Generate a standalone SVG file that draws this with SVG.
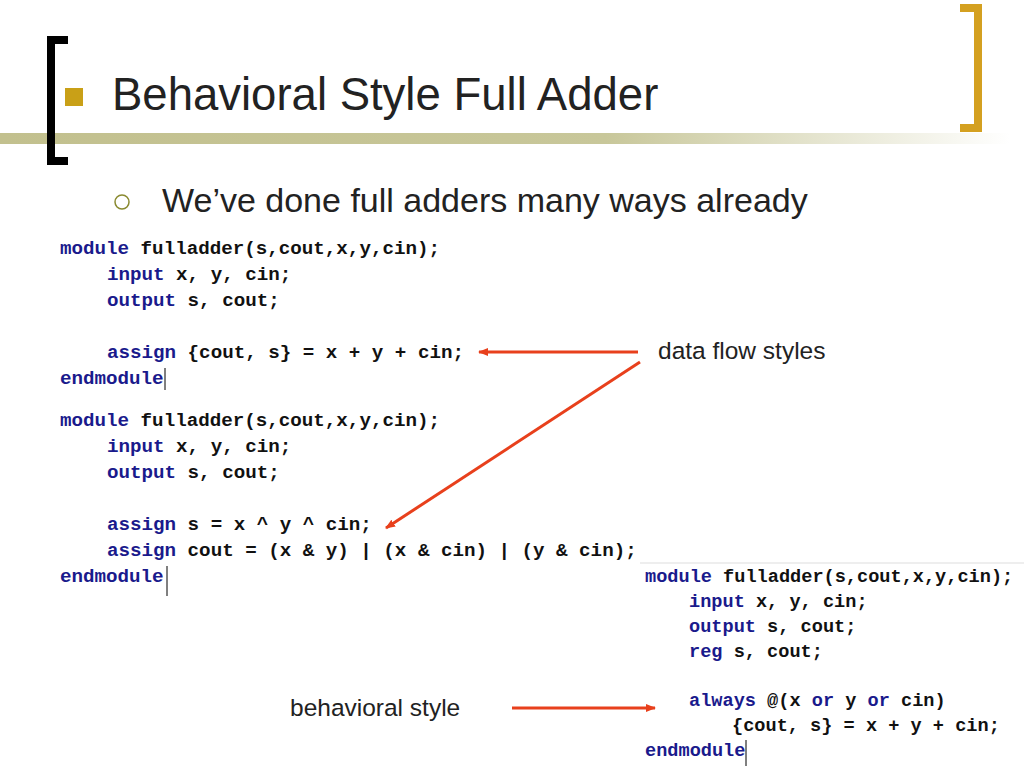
<svg xmlns="http://www.w3.org/2000/svg" width="1024" height="768" viewBox="0 0 1024 768">
<style>
.c{font-family:"Liberation Mono",monospace;font-weight:bold;font-size:19.2px;fill:#111}
.c3{font-size:18.6px}
.k{fill:#1a1a8c}
.s{font-family:"Liberation Sans",Arial,sans-serif;fill:#222}
.a{stroke:#e8401c;stroke-width:3;fill:none;marker-end:url(#ah)}
</style>
<defs>
<marker id="ah" markerWidth="10" markerHeight="8" refX="9" refY="4" orient="auto" markerUnits="userSpaceOnUse"><path d="M0,0L10,4L0,8z" fill="#e8401c"/></marker>
<linearGradient id="bar" x1="0" x2="1"><stop offset="0" stop-color="#c2c08e"/><stop offset="0.6" stop-color="#c8c79a"/><stop offset="1" stop-color="#fff"/></linearGradient>
</defs>
<rect width="1024" height="768" fill="#fff"/>
<rect x="0" y="133" width="1010" height="11" fill="url(#bar)"/>
<path d="M68,40H51V161H68" stroke="#000" stroke-width="8" fill="none"/>
<path d="M960,8H978V128H960" stroke="#d4a020" stroke-width="8" fill="none"/>
<rect x="65" y="88" width="18" height="18" fill="#c9a017"/>
<text x="112" y="110" class="s" font-size="45.5">Behavioral Style Full Adder</text>
<circle cx="122" cy="202" r="7" fill="none" stroke="#8a8a30" stroke-width="1.5"/>
<text x="162" y="212" class="s" font-size="34">We’ve done full adders many ways already</text>
<g id="code1" class="c">
<text x="60" y="254"><tspan class="k">module</tspan> fulladder(s,cout,x,y,cin);</text>
<text x="107" y="280"><tspan class="k">input</tspan> x, y, cin;</text>
<text x="107" y="306"><tspan class="k">output</tspan> s, cout;</text>
<text x="107" y="358"><tspan class="k">assign</tspan> {cout, s} = x + y + cin;</text>
<text x="60" y="384" class="k">endmodule</text>
<line x1="165" y1="368" x2="165" y2="390" stroke="#000"/>
</g>
<g id="code2" class="c">
<text x="60" y="426"><tspan class="k">module</tspan> fulladder(s,cout,x,y,cin);</text>
<text x="107" y="452"><tspan class="k">input</tspan> x, y, cin;</text>
<text x="107" y="478"><tspan class="k">output</tspan> s, cout;</text>
<text x="107" y="530"><tspan class="k">assign</tspan> s = x ^ y ^ cin;</text>
<text x="107" y="556"><tspan class="k">assign</tspan> cout = (x &amp; y) | (x &amp; cin) | (y &amp; cin);</text>
<text x="60" y="582" class="k">endmodule</text>
<line x1="167" y1="566" x2="167" y2="596" stroke="#000"/>
</g>
<g id="code3" class="c c3">
<line x1="640" y1="563" x2="1024" y2="563" stroke="#ddd"/>
<text x="645" y="582"><tspan class="k">module</tspan> fulladder(s,cout,x,y,cin);</text>
<text x="689" y="607"><tspan class="k">input</tspan> x, y, cin;</text>
<text x="689" y="632"><tspan class="k">output</tspan> s, cout;</text>
<text x="689" y="657"><tspan class="k">reg</tspan> s, cout;</text>
<text x="689" y="706"><tspan class="k">always</tspan> @(x <tspan class="k">or</tspan> y <tspan class="k">or</tspan> cin)</text>
<text x="732" y="731">{cout, s} = x + y + cin;</text>
<text x="645" y="756" class="k">endmodule</text>
<line x1="746" y1="740" x2="746" y2="766" stroke="#000"/>
</g>
<text x="658" y="359" class="s" font-size="24.5">data flow styles</text>
<text x="290" y="716" class="s" font-size="24.5">behavioral style</text>
<g id="connectors">
<line x1="638" y1="352" x2="479" y2="352" class="a"/>
<line x1="640" y1="362" x2="386" y2="528" class="a"/>
<line x1="512" y1="708" x2="655" y2="708" class="a"/>
</g>
</svg>
